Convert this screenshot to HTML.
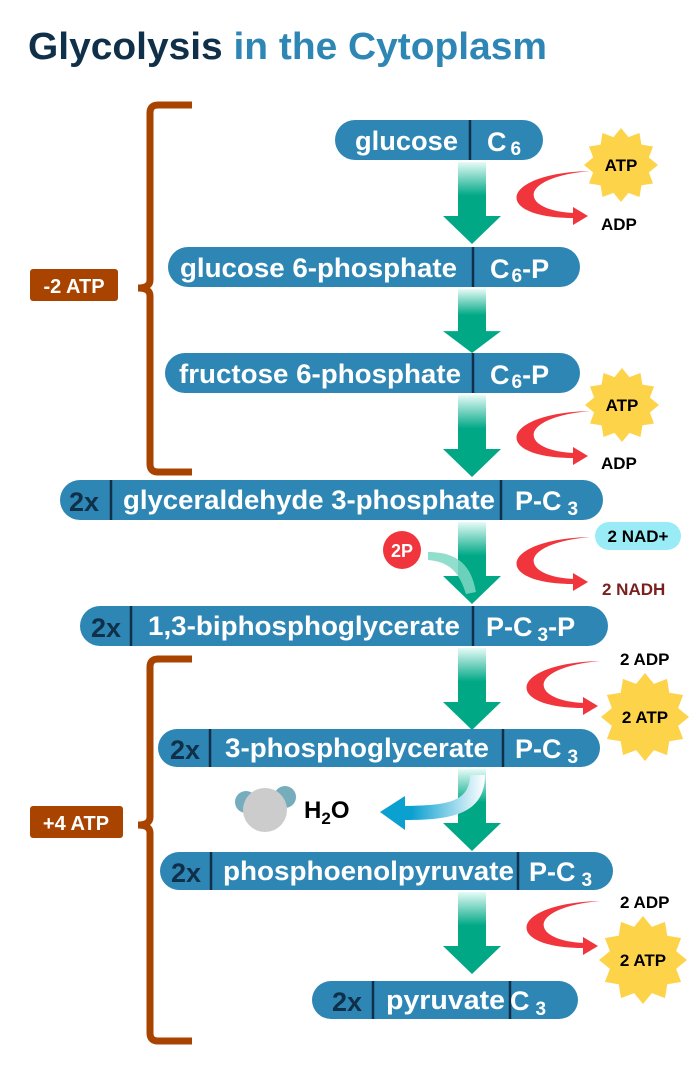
<!DOCTYPE html>
<html><head><meta charset="utf-8"><style>
html,body{margin:0;padding:0;background:#fff;}
svg{display:block;font-family:"Liberation Sans",sans-serif;}
.pt{fill:#fff;font-weight:bold;font-size:27px;}
.tx{fill:#10304a;font-weight:bold;font-size:27px;}
.bk{fill:#000;font-weight:bold;font-size:17px;}
</style></head><body>
<svg width="700" height="1088" viewBox="0 0 700 1088">
<defs>
<linearGradient id="g" x1="0" y1="0" x2="0" y2="1">
<stop offset="0" stop-color="#e6fbf7"/><stop offset="0.6" stop-color="#00a886"/><stop offset="1" stop-color="#00a886"/>
</linearGradient>
<linearGradient id="b" x1="1" y1="0" x2="0" y2="0">
<stop offset="0" stop-color="#ffffff"/><stop offset="0.7" stop-color="#0aa0d0"/><stop offset="1" stop-color="#0aa0d0"/>
</linearGradient>
<polygon id="star" points="1,0 .753,.202 .866,.5 .552,.552 .5,.866 .202,.753 0,1 -.202,.753 -.5,.866 -.552,.552 -.866,.5 -.753,.202 -1,0 -.753,-.202 -.866,-.5 -.552,-.552 -.5,-.866 -.202,-.753 0,-1 .202,-.753 .5,-.866 .552,-.552 .866,-.5 .753,-.202" fill="#fdd34a"/>
<g id="garrow"><rect x="458" y="0" width="28" height="56" fill="url(#g)"/><polygon points="443,54 501,54 472,82" fill="#00a886"/></g>
<g id="rarrow"><path d="M590,171 C500,173 490,218 575,218 L575,213 C520,211 515,178 590,171 Z" fill="#f0353d"/><polygon points="573,207 588,216 573,225" fill="#f0353d"/></g>
</defs>

<text x="28" y="59" font-size="38" font-weight="bold" fill="#10304a" textLength="519" lengthAdjust="spacingAndGlyphs">Glycolysis <tspan fill="#2e86b5">in the Cytoplasm</tspan></text>

<path d="M192,105 H158 Q150,105 150,113 V280 Q150,288 138,288 Q150,288 150,296 V464 Q150,472 158,472 H192" fill="none" stroke="#a94400" stroke-width="7"/>
<path d="M192,659 H158 Q150,659 150,667 V817 Q150,825 138,825 Q150,825 150,833 V1033 Q150,1041 158,1041 H192" fill="none" stroke="#a94400" stroke-width="7"/>
<rect x="30" y="269" width="88" height="32" rx="3" fill="#a94400"/>
<text x="74" y="293" text-anchor="middle" fill="#fff" font-weight="bold" font-size="20">-2 ATP</text>
<rect x="30" y="806" width="93" height="32" rx="3" fill="#a94400"/>
<text x="76" y="830" text-anchor="middle" fill="#fff" font-weight="bold" font-size="20">+4 ATP</text>

<use href="#garrow" transform="translate(0,162)"/>
<use href="#garrow" transform="translate(0,289) scale(1,0.78)"/>
<use href="#garrow" transform="translate(0,395)"/>
<use href="#garrow" transform="translate(0,522)"/>
<use href="#garrow" transform="translate(0,648)"/>
<use href="#garrow" transform="translate(0,769)"/>
<use href="#garrow" transform="translate(0,892)"/>

<path d="M428,552 C462,552 472,570 476,592 L466,594 C460,575 452,562 428,560 Z" fill="#7fd8c4" opacity="0.85"/>
<circle cx="402" cy="550" r="19" fill="#f0353d"/>
<text x="402" y="557" text-anchor="middle" fill="#fff" font-weight="bold" font-size="18">2P</text>

<path d="M470,775 C470,805 440,805 405,806 L405,796 L380,812 L405,830 L405,820 C450,820 485,815 485,775 Z" fill="url(#b)"/>
<circle cx="246" cy="802" r="11" fill="#76adbc"/>
<circle cx="285" cy="797" r="11" fill="#76adbc"/>
<circle cx="265" cy="810" r="22" fill="#cccccc"/>
<text x="304" y="818" font-size="24" font-weight="bold" fill="#000">H<tspan font-size="17" dy="6">2</tspan><tspan dy="-6">O</tspan></text>

<rect x="335" y="120" width="208" height="40" rx="20" fill="#2e86b5"/>
<line x1="470" y1="120" x2="470" y2="160" stroke="#10304a" stroke-width="2.5"/>
<text x="355" y="150" class="pt" textLength="103" lengthAdjust="spacingAndGlyphs">glucose</text>
<text x="487" y="151" class="pt" font-size="29">C<tspan font-size="19" dx="4" dy="4">6</tspan></text>

<rect x="168" y="247" width="412" height="40" rx="20" fill="#2e86b5"/>
<line x1="473" y1="247" x2="473" y2="287" stroke="#10304a" stroke-width="2.5"/>
<text x="180" y="277" class="pt" textLength="277" lengthAdjust="spacingAndGlyphs">glucose 6-phosphate</text>
<text x="490" y="278" class="pt" font-size="29">C<tspan font-size="19" dx="2" dy="4">6</tspan><tspan dy="-4">-P</tspan></text>

<rect x="165" y="353" width="415" height="40" rx="20" fill="#2e86b5"/>
<line x1="473" y1="353" x2="473" y2="393" stroke="#10304a" stroke-width="2.5"/>
<text x="179" y="383" class="pt" textLength="282" lengthAdjust="spacingAndGlyphs">fructose 6-phosphate</text>
<text x="490" y="384" class="pt" font-size="29">C<tspan font-size="19" dx="2" dy="4">6</tspan><tspan dy="-4">-P</tspan></text>

<rect x="60" y="480" width="543" height="40" rx="20" fill="#2e86b5"/>
<line x1="111" y1="480" x2="111" y2="520" stroke="#10304a" stroke-width="2.5"/>
<line x1="501" y1="480" x2="501" y2="520" stroke="#10304a" stroke-width="2.5"/>
<text x="69" y="511" class="tx">2x</text>
<text x="123" y="509" class="pt" textLength="372" lengthAdjust="spacingAndGlyphs">glyceraldehyde 3-phosphate</text>
<text x="515" y="510" class="pt" font-size="28">P-C<tspan font-size="19" dx="6" dy="5">3</tspan></text>

<rect x="80" y="606" width="528" height="40" rx="20" fill="#2e86b5"/>
<line x1="131" y1="606" x2="131" y2="646" stroke="#10304a" stroke-width="2.5"/>
<line x1="473" y1="606" x2="473" y2="646" stroke="#10304a" stroke-width="2.5"/>
<text x="91" y="637" class="tx">2x</text>
<text x="148" y="635" class="pt" textLength="312" lengthAdjust="spacingAndGlyphs">1,3-biphosphoglycerate</text>
<text x="486" y="636" class="pt" font-size="28">P-C<tspan font-size="19" dx="5" dy="5">3</tspan><tspan dy="-5">-P</tspan></text>

<rect x="158" y="729" width="442" height="38" rx="19" fill="#2e86b5"/>
<line x1="210" y1="729" x2="210" y2="767" stroke="#10304a" stroke-width="2.5"/>
<line x1="503" y1="729" x2="503" y2="767" stroke="#10304a" stroke-width="2.5"/>
<text x="170" y="759" class="tx">2x</text>
<text x="225" y="757" class="pt" textLength="264" lengthAdjust="spacingAndGlyphs">3-phosphoglycerate</text>
<text x="515" y="758" class="pt" font-size="28">P-C<tspan font-size="19" dx="6" dy="5">3</tspan></text>

<rect x="160" y="852" width="453" height="38" rx="19" fill="#2e86b5"/>
<line x1="211" y1="852" x2="211" y2="890" stroke="#10304a" stroke-width="2.5"/>
<line x1="518" y1="852" x2="518" y2="890" stroke="#10304a" stroke-width="2.5"/>
<text x="171" y="882" class="tx">2x</text>
<text x="223" y="880" class="pt" textLength="291" lengthAdjust="spacingAndGlyphs">phosphoenolpyruvate</text>
<text x="529" y="881" class="pt" font-size="28">P-C<tspan font-size="19" dx="6" dy="5">3</tspan></text>

<rect x="312" y="981" width="266" height="38" rx="19" fill="#2e86b5"/>
<line x1="373" y1="981" x2="373" y2="1019" stroke="#10304a" stroke-width="2.5"/>
<line x1="510" y1="981" x2="510" y2="1019" stroke="#10304a" stroke-width="2.5"/>
<text x="332" y="1011" class="tx">2x</text>
<text x="386" y="1009" class="pt" textLength="119" lengthAdjust="spacingAndGlyphs">pyruvate</text>
<text x="510" y="1010" class="pt" font-size="28">C<tspan font-size="19" dx="6" dy="5">3</tspan></text>

<use href="#rarrow"/>
<use href="#star" transform="translate(621,165) scale(37)"/>
<text x="621" y="171" text-anchor="middle" class="bk">ATP</text>
<text x="601" y="230" class="bk">ADP</text>

<use href="#rarrow" transform="translate(0,240)"/>
<use href="#star" transform="translate(622,405) scale(37)"/>
<text x="622" y="411" text-anchor="middle" class="bk">ATP</text>
<text x="601" y="469" class="bk">ADP</text>

<use href="#rarrow" transform="translate(0,366)"/>
<rect x="595" y="522" width="86" height="28" rx="14" fill="#99ecf6"/>
<text x="638" y="542" text-anchor="middle" class="bk">2 NAD+</text>
<text x="602" y="595" class="bk" style="fill:#7a2020">2 NADH</text>

<use href="#rarrow" transform="translate(10,490)"/>
<text x="620" y="665" class="bk">2 ADP</text>
<use href="#star" transform="translate(645,717) scale(44)"/>
<text x="645" y="723" text-anchor="middle" class="bk">2 ATP</text>

<use href="#rarrow" transform="translate(10,730)"/>
<text x="620" y="908" class="bk">2 ADP</text>
<use href="#star" transform="translate(643,960) scale(44)"/>
<text x="643" y="966" text-anchor="middle" class="bk">2 ATP</text>
</svg>
</body></html>
